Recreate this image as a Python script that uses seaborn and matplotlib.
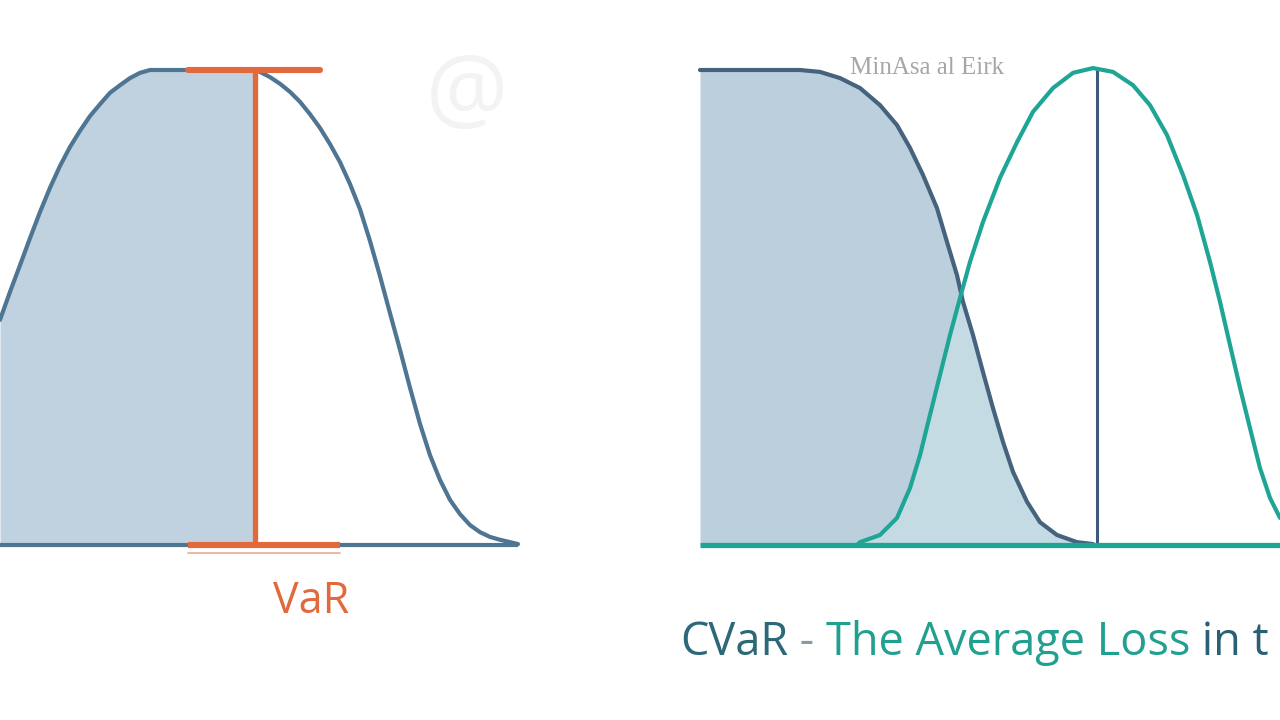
"""VaR vs CVaR illustration - two density sketches side by side."""

import numpy as np
import matplotlib

matplotlib.use("Agg")
import matplotlib.pyplot as plt  # noqa: E402
import seaborn as sns  # noqa: E402
from matplotlib.patches import Polygon  # noqa: E402

# --- left panel: loss density with the VaR cut (x in loss units, y density scaled to peak=1)
var_x = [0.00, 0.10, 0.20, 0.30, 0.40, 0.50, 0.60, 0.70, 0.80, 0.90, 1.00, 1.10,
         1.20, 1.30, 1.40, 1.50, 2.00, 2.55, 2.60, 2.70, 2.80, 2.90, 3.00, 3.10,
         3.20, 3.30, 3.40, 3.50, 3.60, 3.70, 3.80, 3.90, 4.00, 4.10, 4.20, 4.30,
         4.40, 4.50, 4.60, 4.70, 4.80, 4.90, 5.00, 5.10, 5.18]
var_y = [0.474, 0.533, 0.589, 0.646, 0.701, 0.752, 0.798, 0.838, 0.872, 0.903,
         0.928, 0.952, 0.968, 0.983, 0.994, 1.000, 1.000, 1.000, 0.996, 0.985,
         0.971, 0.954, 0.933, 0.907, 0.878, 0.844, 0.806, 0.760, 0.707, 0.640,
         0.566, 0.488, 0.411, 0.331, 0.255, 0.189, 0.137, 0.095, 0.065, 0.042,
         0.027, 0.017, 0.011, 0.006, 0.002]
var_level = 2.55
var_label = "VaR"

# --- right panel: body of the distribution and the tail distribution
body_x = [0.00, 1.00, 1.20, 1.40, 1.60, 1.80, 1.97, 2.10, 2.23, 2.37, 2.47, 2.57,
          2.63, 2.73, 2.83, 2.93, 3.03, 3.13, 3.27, 3.40, 3.57, 3.77, 3.93]
body_y = [1.000, 1.000, 0.996, 0.983, 0.962, 0.926, 0.884, 0.836, 0.779, 0.709,
          0.638, 0.568, 0.512, 0.442, 0.364, 0.288, 0.217, 0.154, 0.091, 0.048,
          0.021, 0.006, 0.002]
tail_x = [1.57, 1.60, 1.80, 1.97, 2.10, 2.20, 2.30, 2.40, 2.50, 2.60, 2.70, 2.83,
          3.00, 3.17, 3.33, 3.53, 3.73, 3.93, 4.13, 4.33, 4.50, 4.67, 4.83, 4.97,
          5.10, 5.20, 5.30, 5.40, 5.50, 5.60, 5.70, 5.80]
tail_y = [0.000, 0.006, 0.021, 0.057, 0.120, 0.189, 0.274, 0.358, 0.442, 0.520,
          0.596, 0.680, 0.773, 0.848, 0.912, 0.962, 0.994, 1.004, 0.996, 0.968,
          0.926, 0.863, 0.779, 0.695, 0.596, 0.512, 0.421, 0.331, 0.246, 0.162,
          0.099, 0.057]
cvar_level = 3.97
faint_label = "MinAsa al Eirk"
title_parts = [("CVaR", "#2b6878"), (" - ", "#8a9aa0"),
               ("The Average Loss", "#22a08f"), (" in t", "#2a5f75")]

BLUE = "#4e7592"
DARK_BLUE = "#45637d"
FILL = "#c0d2df"
ORANGE = "#e2693b"
TEAL = "#1fa596"

sns.set_theme(style="white")
plt.rcParams["font.family"] = ["Open Sans", "DejaVu Sans"]

fig = plt.figure(figsize=(12.8, 7.2), dpi=100)
fig.patch.set_facecolor("white")

# both panels share the same scale: 100 px per x unit, 475 px per density unit
ax_l = fig.add_axes([0.0, 0.0, 0.5, 1.0])
ax_r = fig.add_axes([0.5, 0.0, 0.5, 1.0])
ax_l.set_xlim(0, 6.4)
ax_r.set_xlim(-0.6, 5.8)
for ax in (ax_l, ax_r):
    ax.set_ylim(-175 / 475, 545 / 475)
    ax.axis("off")

# ---------------- left panel ----------------
vx = np.array(var_x)
vy = np.array(var_y)
mask = vx <= var_level
ax_l.fill_between(vx[mask], 0, vy[mask], color=FILL, lw=0, zorder=1)
sns.lineplot(x=vx, y=vy, ax=ax_l, color=BLUE, linewidth=3.0, zorder=3)
ax_l.plot([vx[0], vx[-1]], [0, 0], color=BLUE, lw=3.0, solid_capstyle="butt", zorder=2)

ax_l.plot([var_level, var_level], [0, max(var_y)], color=ORANGE, lw=3.8, zorder=4)
ax_l.plot([1.88, 3.20], [1.0, 1.0], color=ORANGE, lw=4.4, solid_capstyle="round", zorder=4)
ax_l.plot([1.88, 3.40], [0.0, 0.0], color=ORANGE, lw=4.4, solid_capstyle="butt", zorder=4)
ax_l.plot([1.88, 3.40], [-0.016, -0.016], color="#eeaa90", lw=1.2, zorder=4)
ax_l.text(2.73, -0.143, var_label, color=ORANGE, fontsize=31, va="baseline", ha="left")

# faint watermark
ax_l.text(4.67, 0.943, "@", color="#f3f3f3", fontsize=66, ha="center", va="center",
          zorder=0)

# ---------------- right panel ----------------
bx = np.array(body_x)
by = np.array(body_y)
ax_r.fill_between(bx, 0, by, color="#bccfdc", lw=0, zorder=1)
clip = Polygon(np.column_stack([np.r_[bx, bx[::-1]], np.r_[by, np.zeros_like(by)]]),
               closed=True, transform=ax_r.transData, facecolor="none", edgecolor="none")
ax_r.add_patch(clip)
tail_fill = ax_r.fill_between(tail_x, 0, tail_y, color="#c5dbe4", lw=0, zorder=1.5)
tail_fill.set_clip_path(clip)

sns.lineplot(x=bx, y=by, ax=ax_r, color=DARK_BLUE, linewidth=3.0, zorder=3)
sns.lineplot(x=tail_x, y=tail_y, ax=ax_r, color=TEAL, linewidth=3.0, zorder=4)
ax_r.plot([cvar_level, cvar_level], [0, max(tail_y)], color="#3e5a78", lw=2.2, zorder=3)
ax_r.plot([0, 5.8], [0, 0], color=TEAL, lw=3.8, solid_capstyle="butt", zorder=5)

ax_r.text(1.50, 1.004, faint_label, color="#a6a6a6", fontsize=18, ha="left",
          va="center", family=["Liberation Serif", "DejaVu Serif"], zorder=2)

# multi-colour caption, each piece chained to the previous one
prev = ax_r.text(-0.20, -0.232, title_parts[0][0], color=title_parts[0][1],
                 fontsize=32.5, va="baseline", ha="left")
for text, colour in title_parts[1:]:
    prev = ax_r.annotate(text, xy=(1, 0), xycoords=prev, va="bottom", ha="left",
                         color=colour, fontsize=32.5, annotation_clip=False)

fig.savefig("out.png", dpi=100, facecolor="white")
